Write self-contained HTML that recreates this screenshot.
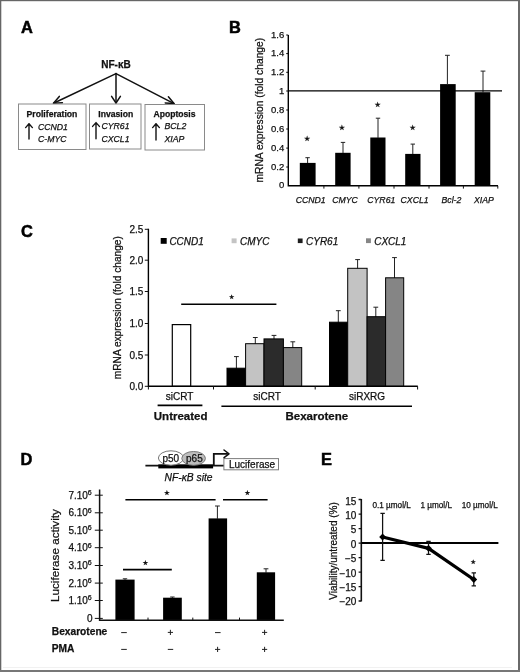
<!DOCTYPE html>
<html lang="en">
<head>
<meta charset="utf-8">
<title>Figure</title>
<style>
html,body{margin:0;padding:0;background:#fff;}
body{width:520px;height:672px;overflow:hidden;position:relative;}
svg{position:absolute;left:0;top:0;display:block;}
svg text{font-family:"Liberation Sans","DejaVu Sans",sans-serif;fill:#111;stroke:#111;stroke-width:0.25px;}
.b{font-weight:bold;}
.i{font-style:italic;}
.lbl{font-weight:bold;font-size:16.4px;fill:#000;stroke:#000;stroke-width:0.5px;}
.ax{stroke:#000;stroke-width:1.4;fill:none;}
.tk{stroke:#111;stroke-width:1;fill:none;}
.eb{stroke:#222;stroke-width:1;fill:none;}
.sig{stroke:#000;stroke-width:1.6;fill:none;}
.star{font-family:"DejaVu Sans",sans-serif;font-size:7px;text-anchor:middle;fill:#111;}
</style>
</head>
<body>
<svg width="520" height="672" viewBox="0 0 520 672">
<rect x="0" y="0" width="520" height="672" fill="#ffffff"/>

<!-- ================= PANEL A ================= -->
<g id="panelA">
<text class="lbl" x="21" y="32.5">A</text>
<text class="b" x="116" y="67.5" font-size="10" text-anchor="middle">NF-κB</text>
<g stroke="#111" stroke-width="1.5" fill="none" stroke-linecap="round" stroke-linejoin="round">
  <path d="M116 73.6 L53.5 103.2"/>
  <path d="M59.3 96.4 L53.5 103.2 L62.4 102.8"/>
  <path d="M116 73.6 L116 103"/>
  <path d="M111.6 96.4 L116 103 L120.4 96.4"/>
  <path d="M116 73.6 L174 103.6"/>
  <path d="M165.2 102.9 L174 103.6 L168.4 96.8"/>
</g>
<g fill="#fff" stroke="#8a8a8a" stroke-width="1">
  <rect x="18.5" y="104" width="67.5" height="45.5"/>
  <rect x="89.5" y="104" width="51.5" height="45"/>
  <rect x="145" y="104.5" width="59.5" height="45.5"/>
</g>
<text class="b" x="26.6" y="117" font-size="8.65">Proliferation</text>
<text class="i" x="38" y="129.5" font-size="8.7">CCND1</text>
<text class="i" x="38" y="142.2" font-size="8.7">C-MYC</text>
<text class="b" x="98.3" y="117" font-size="8.6">Invasion</text>
<text class="i" x="101.5" y="129.3" font-size="8.7">CYR61</text>
<text class="i" x="101.5" y="141.8" font-size="8.7">CXCL1</text>
<text class="b" x="153.5" y="117" font-size="8.6">Apoptosis</text>
<text class="i" x="164.5" y="129.3" font-size="8.7">BCL2</text>
<text class="i" x="164.5" y="141.8" font-size="8.7">XIAP</text>
<g stroke="#111" stroke-width="1.4" fill="none" stroke-linecap="round" stroke-linejoin="round">
  <path d="M29 139 L29 123.8 M25.6 127.6 L29 123.8 L32.4 127.6"/>
  <path d="M96 138.8 L96 122.6 M92.6 126.4 L96 122.6 L99.4 126.4"/>
  <path d="M156 140 L156 123.8 M152.6 127.6 L156 123.8 L159.4 127.6"/>
</g>
</g>

<!-- ================= PANEL B ================= -->
<g id="panelB">
<text class="lbl" x="229" y="32.5">B</text>
<text transform="translate(263,110.2) rotate(-90)" font-size="10.25" text-anchor="middle">mRNA expression (fold change)</text>
<g font-size="9.5" text-anchor="end">
  <text x="284.2" y="37.5">1.6</text>
  <text x="284.2" y="56.1">1.4</text>
  <text x="284.2" y="74.8">1.2</text>
  <text x="284.2" y="93.5">1</text>
  <text x="284.2" y="112.5">0.8</text>
  <text x="284.2" y="131.5">0.6</text>
  <text x="284.2" y="150.6">0.4</text>
  <text x="284.2" y="169.5">0.2</text>
  <text x="284.2" y="188.1">0</text>
</g>
<path class="tk" d="M286.2 35.0 H288.3 M286.2 53.6 H288.3 M286.2 72.3 H288.3 M286.2 91.0 H288.3 M286.2 110.0 H288.3 M286.2 129.0 H288.3 M286.2 148.1 H288.3 M286.2 167.0 H288.3"/>
<!-- bars -->
<g fill="#000">
  <rect x="299.8" y="162.9" width="15.8" height="23"/>
  <rect x="335.2" y="152.8" width="15.4" height="33"/>
  <rect x="370.3" y="137.5" width="15.2" height="48.4"/>
  <rect x="405.2" y="153.9" width="15.3" height="32"/>
  <rect x="440.1" y="84.1" width="15.6" height="101.8"/>
  <rect x="474.7" y="92.2" width="15.6" height="93.7"/>
</g>
<g class="eb">
  <path d="M307.6 163 V157.7 M305.4 157.7 H309.8"/>
  <path d="M343 153 V142.4 M340.8 142.4 H345.2"/>
  <path d="M378 138 V118.2 M375.8 118.2 H380.2"/>
  <path d="M412.8 154 V144.1 M410.6 144.1 H415"/>
  <path d="M447.4 85 V55.3 M445 55.3 H449.8"/>
  <path d="M483 93 V71.1 M480.6 71.1 H485.4"/>
</g>
<!-- axes -->
<path class="ax" d="M288.3 35 V185.8 H498"/>
<path class="tk" d="M323.9 185.8 V188.6 M358.9 185.8 V188.6 M394 185.8 V188.6 M429 185.8 V188.6 M463.4 185.8 V188.6 M497.8 185.8 V188.6"/>
<path d="M288.3 90.9 H502" stroke="#000" stroke-width="1.3" fill="none"/>
<text class="star" x="307.2" y="140.6">★</text>
<text class="star" x="341.8" y="130.2">★</text>
<text class="star" x="377.6" y="106.5">★</text>
<text class="star" x="412.7" y="130.2">★</text>
<g class="i" font-size="8.7">
  <text x="295.7" y="203.2">CCND1</text>
  <text x="332.3" y="203.2">CMYC</text>
  <text x="367.3" y="203.2">CYR61</text>
  <text x="400.6" y="203.2">CXCL1</text>
  <text x="441.5" y="203.2">Bcl-2</text>
  <text x="474" y="203.2">XIAP</text>
</g>
</g>


<!-- ================= PANEL C ================= -->
<g id="panelC">
<text class="lbl" x="21" y="237.3">C</text>
<text transform="translate(121.4,307.7) rotate(-90)" font-size="10.15" text-anchor="middle">mRNA expression (fold change)</text>
<g font-size="10" text-anchor="end">
  <text x="143.4" y="232.6">2.5</text>
  <text x="143.4" y="263.6">2.0</text>
  <text x="143.4" y="294.9">1.5</text>
  <text x="143.4" y="327.2">1.0</text>
  <text x="143.4" y="358.7">0.5</text>
  <text x="143.4" y="389.8">0.0</text>
</g>
<!-- legend -->
<rect x="160.7" y="238" width="6" height="5.8" fill="#000"/>
<rect x="231.6" y="238.4" width="5" height="4.8" fill="#c4c4c4"/>
<rect x="297.8" y="238.5" width="4.8" height="4.6" fill="#1e1e1e"/>
<rect x="366" y="238.3" width="4.9" height="4.8" fill="#868686"/>
<g class="i" font-size="10">
  <text x="169.4" y="244.6">CCND1</text>
  <text x="240" y="244.6">CMYC</text>
  <text x="306" y="244.6">CYR61</text>
  <text x="374.2" y="244.6">CXCL1</text>
</g>
<!-- error bars (behind bars) -->
<g class="eb">
  <path d="M236.4 369 V356.6 M234 356.6 H238.8"/>
  <path d="M255.3 345 V337.5 M252.9 337.5 H257.7"/>
  <path d="M274 340 V335.4 M271.6 335.4 H276.4"/>
  <path d="M292.8 349 V341.8 M290.4 341.8 H295.2"/>
  <path d="M338.3 323 V310.7 M335.9 310.7 H340.7"/>
  <path d="M357.6 269 V259.6 M355.2 259.6 H360"/>
  <path d="M375.8 318 V307.2 M373.4 307.2 H378.2"/>
  <path d="M394.5 279 V257.6 M392.1 257.6 H396.9"/>
</g>
<!-- bars -->
<g stroke="#000" stroke-width="1">
  <rect x="172.3" y="324.6" width="18.4" height="61.8" fill="#fff" stroke-width="1.2"/>
  <rect x="227" y="368.2" width="18.6" height="18.2" fill="#000"/>
  <rect x="245.6" y="343.7" width="18.4" height="42.7" fill="#c3c3c3"/>
  <rect x="264" y="338.9" width="19.4" height="47.5" fill="#2b2b2b"/>
  <rect x="283.4" y="347.6" width="18.3" height="38.8" fill="#858585"/>
  <rect x="329.5" y="322.2" width="18.2" height="64.2" fill="#000"/>
  <rect x="347.7" y="268.3" width="19.4" height="118.1" fill="#c3c3c3"/>
  <rect x="367.1" y="316.7" width="18.5" height="69.7" fill="#2b2b2b"/>
  <rect x="385.6" y="277.8" width="18.1" height="108.6" fill="#858585"/>
</g>
<!-- axes -->
<path class="ax" d="M148.4 228.8 V386.3 H417.8"/>
<path class="tk" d="M144.8 229.3 H148.4 M144.8 260.2 H148.4 M144.8 291.5 H148.4 M144.8 323.5 H148.4 M144.8 355 H148.4 M144.8 386.3 H148.4"/>
<path class="tk" d="M148.4 386.3 V389.5 M213.5 386.3 V389.5 M315.2 386.3 V389.5 M417.6 386.3 V389.5"/>
<path class="sig" d="M181.2 304.3 H276.4"/>
<text class="star" style="font-size:6px" x="231.6" y="299">★</text>
<g font-size="10">
  <text x="165.7" y="400">siCRT</text>
  <text x="253.2" y="399.8">siCRT</text>
  <text x="349" y="399.8">siRXRG</text>
</g>
<path class="sig" d="M157.6 405.4 H202.4 M221.4 406.2 H412"/>
<text class="b" x="153.8" y="420.4" font-size="11.5">Untreated</text>
<text class="b" x="285.5" y="419.6" font-size="11.5">Bexarotene</text>
</g>


<!-- ================= PANEL D ================= -->
<g id="panelD">
<text class="lbl" x="20.5" y="465.4">D</text>
<!-- reporter schematic -->
<path d="M145.4 465.6 H224" stroke="#111" stroke-width="1.6" fill="none"/>
<rect x="158.3" y="464.4" width="54.8" height="4" fill="#000"/>
<rect x="223.9" y="458.6" width="54.6" height="11.2" fill="#fff" stroke="#7d7d7d" stroke-width="1"/>
<ellipse cx="171" cy="458" rx="12.6" ry="7.2" fill="#fff" stroke="#777" stroke-width="1"/>
<ellipse cx="193.6" cy="458.4" rx="11.8" ry="6.9" fill="#bdbdbd" stroke="#777" stroke-width="1"/>
<text x="170.8" y="461.9" font-size="10" text-anchor="middle">p50</text>
<text x="194.4" y="461.9" font-size="10" text-anchor="middle">p65</text>
<path d="M213.8 466 V453.8 H227.8" stroke="#111" stroke-width="1.8" fill="none"/>
<path d="M224 450 L229 453.8 L224 457.6" stroke="#111" stroke-width="1.5" fill="none" stroke-linejoin="round" stroke-linecap="round"/>
<text x="229" y="467.6" font-size="10">Luciferase</text>
<text class="i" x="164.5" y="480.6" font-size="10.3">NF-κB site</text>
<!-- y axis -->
<text transform="translate(59.4,555.6) rotate(-90)" font-size="11.7" text-anchor="middle">Luciferase activity</text>
<g font-size="10">
  <text x="68.4" y="498.8">7.10<tspan font-size="7" dy="-3.8">6</tspan></text>
  <text x="68.4" y="516.4">6.10<tspan font-size="7" dy="-3.8">6</tspan></text>
  <text x="68.4" y="533.8">5.10<tspan font-size="7" dy="-3.8">6</tspan></text>
  <text x="68.4" y="551.3">4.10<tspan font-size="7" dy="-3.8">6</tspan></text>
  <text x="68.4" y="569.1">3.10<tspan font-size="7" dy="-3.8">6</tspan></text>
  <text x="68.4" y="586.7">2.10<tspan font-size="7" dy="-3.8">6</tspan></text>
  <text x="68.4" y="604.1">1.10<tspan font-size="7" dy="-3.8">6</tspan></text>
  <text x="87" y="622">0</text>
</g>
<!-- bars -->
<g fill="#000">
  <rect x="115.4" y="579.6" width="19.2" height="41"/>
  <rect x="163.1" y="597.7" width="18.7" height="23"/>
  <rect x="208.6" y="518.4" width="18.5" height="102.2"/>
  <rect x="256.8" y="572.3" width="18.3" height="48.3"/>
</g>
<g class="eb">
  <path d="M125 580 V578.8 M122.8 578.8 H127.2"/>
  <path d="M172.4 598 V597 M170.2 597 H174.6"/>
  <path d="M217.4 519 V506 M215 506 H219.8"/>
  <path d="M266 573 V568.8 M263.6 568.8 H268.4"/>
</g>
<path d="M99.6 489.4 V620.2 H283.8" stroke="#111" stroke-width="1.5" fill="none"/>
<path class="tk" d="M94.8 495.2 H102.8 M94.8 512.8 H102.8 M94.8 530.2 H102.8 M94.8 547.7 H102.8 M94.8 565.5 H102.8 M94.8 583.1 H102.8 M94.8 600.5 H102.8 M94.8 618.4 H102.8"/>
<path class="tk" d="M148 620 V617.6 M192.8 620 V617.6 M239.5 620 V617.6"/>
<path class="sig" d="M125.4 499.8 H215.6 M223 499.8 H267.6 M123 569.6 H171.8"/>
<text class="star" style="font-size:6.5px" x="166.8" y="495.2">★</text>
<text class="star" style="font-size:6.5px" x="247.3" y="495.2">★</text>
<text class="star" style="font-size:6.5px" x="145.4" y="565">★</text>
<text class="b" x="51.8" y="635.2" font-size="10.2">Bexarotene</text>
<text class="b" x="51.8" y="651.7" font-size="10.2">PMA</text>
<g stroke="#222" stroke-width="1" fill="none">
  <path d="M121.2 632.6 H126.8"/>
  <path d="M121.2 649.4 H126.8"/>
  <path d="M167.8 632.4 H173 M170.4 629.8 V635"/>
  <path d="M167.8 649.4 H173.2"/>
  <path d="M215 632.6 H220.6"/>
  <path d="M215 649.4 H220.2 M217.6 646.8 V652"/>
  <path d="M262 632.4 H267.2 M264.6 629.8 V635"/>
  <path d="M262 649.4 H267.2 M264.6 646.8 V652"/>
</g>
</g>


<!-- ================= PANEL E ================= -->
<g id="panelE">
<text class="lbl" x="321" y="465.4">E</text>
<text transform="translate(336.9,551) rotate(-90)" font-size="10" text-anchor="middle">Viability/untreated (%)</text>
<g font-size="10" text-anchor="end">
  <text x="356.4" y="505.2">15</text>
  <text x="356.4" y="518.9">10</text>
  <text x="356.4" y="533.4">5</text>
  <text x="356.4" y="547.8">0</text>
  <text x="356.4" y="562.2">−5</text>
  <text x="356.4" y="576.6">−10</text>
  <text x="356.4" y="591">−15</text>
  <text x="356.4" y="605.3">−20</text>
</g>
<path d="M361.3 499 V601.4" stroke="#111" stroke-width="1.6" fill="none"/>
<path d="M358.6 499.5 H361.3 M358.6 514.2 H361.3 M358.6 528.7 H361.3 M358.6 543.1 H361.3 M358.6 557.7 H361.3 M358.6 572.2 H361.3 M358.6 586.7 H361.3 M358.6 601 H361.3" stroke="#111" stroke-width="1.3" fill="none"/>
<path d="M361.3 543 H498.4" stroke="#000" stroke-width="1.8" fill="none"/>
<g font-size="8.2">
  <text x="372.4" y="508.4">0.1 µmol/L</text>
  <text x="420.4" y="508.4">1 µmol/L</text>
  <text x="461.7" y="508.4">10 µmol/L</text>
</g>
<g stroke="#111" stroke-width="1.25" fill="none">
  <path d="M382.6 513.3 V560.4 M380.4 513.3 H384.8 M380.4 560.4 H384.8"/>
  <path d="M428.5 541.4 V554.3 M426.3 541.4 H430.7 M426.3 554.3 H430.7"/>
  <path d="M473.8 572.9 V585.9 M471.6 572.9 H476 M471.6 585.9 H476"/>
</g>
<path d="M382.6 537 L428.5 548.3 L473.8 579.5" stroke="#000" stroke-width="3.3" fill="none" stroke-linejoin="round"/>
<g fill="#000">
  <path d="M382.6 533.6 L386 537 L382.6 540.4 L379.2 537 Z"/>
  <path d="M428.5 544.9 L431.9 548.3 L428.5 551.7 L425.1 548.3 Z"/>
  <path d="M473.8 576.1 L477.2 579.5 L473.8 582.9 L470.4 579.5 Z"/>
</g>
<text class="star" style="font-size:6px" x="473.3" y="563.8">★</text>
</g>


<!-- frame -->
<rect x="3" y="667" width="509" height="1" fill="#f1f1f1"/>
<rect x="0" y="0" width="520" height="1.2" fill="#666"/>
<rect x="0" y="0" width="1.3" height="672" fill="#666"/>
<rect x="518" y="0" width="2" height="672" fill="#6a6a6a"/>
<rect x="0" y="670" width="520" height="2" fill="#777"/>
</svg>
</body>
</html>
